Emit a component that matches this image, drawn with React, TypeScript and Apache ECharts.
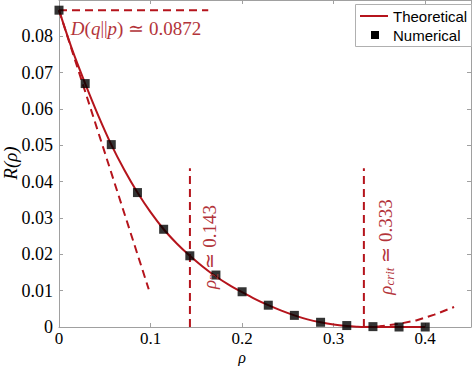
import React, { useEffect, useRef } from "react";
import * as echarts from "echarts";

// Numerical points (rho = k/35)
const numX = [0, 0.0286, 0.0571, 0.0857, 0.1143, 0.1429, 0.1714, 0.2, 0.2286, 0.2571, 0.2857, 0.3143, 0.3429, 0.3714, 0.4];
const numY = [0.0872, 0.067, 0.0502, 0.037, 0.0269, 0.0196, 0.0143, 0.0097, 0.006, 0.0032, 0.0013, 0.0004, 0.0001, 0, 0];

// Theoretical curve (solid)
const theoX = [0, 0.0143, 0.0286, 0.0429, 0.0571, 0.0714, 0.0857, 0.1, 0.1143, 0.1286, 0.1429, 0.1571, 0.1714, 0.1857, 0.2, 0.2143, 0.2286, 0.2429, 0.2571, 0.2714, 0.2857, 0.3, 0.3143, 0.325, 0.333, 0.36, 0.4];
const theoY = [0.0872, 0.0764, 0.067, 0.0582, 0.0502, 0.0432, 0.037, 0.0316, 0.0269, 0.023, 0.0196, 0.0166, 0.0139, 0.0116, 0.0096, 0.0077, 0.006, 0.0045, 0.0032, 0.0021, 0.0013, 0.0007, 0.0003, 0.0001, 0, 0, 0];

// Dashed continuation beyond rho_crit
const extX = [0.333, 0.35, 0.37, 0.39, 0.41, 0.4315];
const extY = [0, 0.0002, 0.0008, 0.0018, 0.0034, 0.0055];

// Tangent at rho = 0
const tanX = [0, 0.098];
const tanY = [0.0872, 0.0104];

// Horizontal level D(q||p)
const dX = [0, 0.163];
const dY = [0.0872, 0.0872];

// Vertical markers
const rho2 = 0.143;
const rhoCrit = 0.333;
const vTop = 0.0437;

const RED = "#b5141c";
const TXT_RED = "#b3343a";
const SERIF = "Liberation Serif";

const zip = (xs: number[], ys: number[]) => xs.map((x, i) => [x, ys[i]]);

export default function App() {
  const ref = useRef<HTMLDivElement>(null);
  useEffect(() => {
    if (!ref.current) return;
    document.body.style.margin = "0";
    const chart = echarts.init(ref.current, undefined, { renderer: "svg" });
    const dashed = (name: string, data: number[][]) => ({
      name,
      type: "line",
      data,
      symbol: "none",
      silent: true,
      lineStyle: { color: RED, width: 2, type: [8, 5] },
      z: 2,
    });
    const axisGray = "#a0a0a0";
    chart.setOption({
      animation: false,
      grid: { left: 59, right: 1, top: 0, bottom: 39, containLabel: false },
      xAxis: [
        {
          type: "value",
          min: 0,
          max: 0.45,
          interval: 0.1,
          axisLine: { show: true, onZero: false, lineStyle: { color: axisGray, width: 1 } },
          axisTick: { show: true, inside: true, length: 4, lineStyle: { color: axisGray } },
          splitLine: { show: false },
          axisLabel: {
            color: "#000",
            fontFamily: SERIF,
            fontSize: 17,
            margin: 3,
            formatter: (v: number) => {
              const r = Math.round(v * 10) / 10;
              if (Math.abs(r - v) > 1e-9) return "";
              return r === 0 ? "0" : String(r);
            },
          },
        },
        {
          type: "value",
          position: "top",
          min: 0,
          max: 0.45,
          interval: 0.1,
          axisLine: { show: true, onZero: false, lineStyle: { color: axisGray, width: 1 } },
          axisTick: { show: true, inside: true, length: 4, lineStyle: { color: axisGray } },
          axisLabel: { show: false },
          splitLine: { show: false },
        },
      ],
      yAxis: [
        {
          type: "value",
          min: 0,
          max: 0.09,
          interval: 0.01,
          axisLine: { show: true, onZero: false, lineStyle: { color: axisGray, width: 1 } },
          axisTick: { show: true, inside: true, length: 4, lineStyle: { color: axisGray } },
          splitLine: { show: false },
          axisLabel: {
            color: "#000",
            fontFamily: SERIF,
            fontSize: 18,
            margin: 6,
            formatter: (v: number) => {
              if (v > 0.085) return "";
              const r = Math.round(v * 100) / 100;
              return r === 0 ? "0" : r.toFixed(2);
            },
          },
        },
        {
          type: "value",
          position: "right",
          min: 0,
          max: 0.09,
          interval: 0.01,
          axisLine: { show: true, onZero: false, lineStyle: { color: axisGray, width: 1 } },
          axisTick: { show: true, inside: true, length: 4, lineStyle: { color: axisGray } },
          axisLabel: { show: false },
          splitLine: { show: false },
        },
      ],
      series: [
        dashed("dline", zip(dX, dY)),
        dashed("tangent", zip(tanX, tanY)),
        dashed("rho2", [[rho2, 0], [rho2, vTop]]),
        dashed("rhocrit", [[rhoCrit, 0], [rhoCrit, vTop]]),
        dashed("ext", zip(extX, extY)),
        {
          name: "Theoretical",
          type: "line",
          data: zip(theoX, theoY),
          smooth: 0.3,
          symbol: "none",
          lineStyle: { color: RED, width: 2 },
          z: 3,
        },
        {
          name: "Numerical",
          type: "scatter",
          data: zip(numX, numY),
          symbol: "rect",
          symbolSize: 9,
          itemStyle: { color: "#000" },
          z: 4,
        },
      ],
      graphic: [
        {
          type: "text",
          x: 136,
          y: 28,
          style: {
            text: "{i|D}({i|q}{b|||}{i|p}) ≃ 0.0872",
            fill: TXT_RED,
            font: `19px "${SERIF}"`,
            align: "center",
            verticalAlign: "middle",
            rich: {
              i: { fontStyle: "italic", fontFamily: SERIF, fontSize: 19, fill: TXT_RED },
              b: { fontFamily: SERIF, fontSize: 18, fill: TXT_RED },
            },
          },
          z: 10,
        },
        {
          type: "text",
          x: 209,
          y: 247,
          rotation: Math.PI / 2,
          style: {
            text: "{i|ρ}{s|2} ≃ 0.143",
            fill: TXT_RED,
            font: `19px "${SERIF}"`,
            align: "center",
            verticalAlign: "middle",
            rich: {
              i: { fontStyle: "italic", fontFamily: SERIF, fontSize: 19, fill: TXT_RED },
              s: { fontFamily: SERIF, fontSize: 13, fill: TXT_RED, verticalAlign: "bottom", padding: [8, 0, 0, 0] },
            },
          },
          z: 10,
        },
        {
          type: "text",
          x: 385,
          y: 247,
          rotation: Math.PI / 2,
          style: {
            text: "{i|ρ}{s|crit} ≃ 0.333",
            fill: TXT_RED,
            font: `19px "${SERIF}"`,
            align: "center",
            verticalAlign: "middle",
            rich: {
              i: { fontStyle: "italic", fontFamily: SERIF, fontSize: 19, fill: TXT_RED },
              s: { fontStyle: "italic", fontFamily: SERIF, fontSize: 13, fill: TXT_RED, verticalAlign: "bottom", padding: [8, 0, 0, 0] },
            },
          },
          z: 10,
        },
        {
          type: "text",
          x: 242,
          y: 357,
          style: {
            text: "ρ",
            fill: "#000",
            font: `italic 16px "${SERIF}"`,
            align: "center",
            verticalAlign: "middle",
          },
        },
        {
          type: "text",
          x: 10,
          y: 163,
          rotation: Math.PI / 2,
          style: {
            text: "R(ρ)",
            fill: "#000",
            font: `italic 19px "${SERIF}"`,
            align: "center",
            verticalAlign: "middle",
          },
        },
        // legend
        {
          type: "rect",
          shape: { x: 355.5, y: 4.5, width: 116, height: 42 },
          style: { fill: "#fff", stroke: "#b0b0b0", lineWidth: 1 },
          z: 20,
        },
        {
          type: "line",
          shape: { x1: 360, y1: 16, x2: 388, y2: 16 },
          style: { stroke: RED, lineWidth: 2 },
          z: 21,
        },
        {
          type: "text",
          x: 393,
          y: 16,
          style: { text: "Theoretical", fill: "#000", font: '15px "Liberation Sans"', verticalAlign: "middle" },
          z: 21,
        },
        {
          type: "rect",
          shape: { x: 371, y: 31, width: 8, height: 8 },
          style: { fill: "#000" },
          z: 21,
        },
        {
          type: "text",
          x: 393,
          y: 35,
          style: { text: "Numerical", fill: "#000", font: '15px "Liberation Sans"', verticalAlign: "middle" },
          z: 21,
        },
      ],
    });
    return () => chart.dispose();
  }, []);
  return <div ref={ref} style={{ width: 474, height: 366 }} />;
}
